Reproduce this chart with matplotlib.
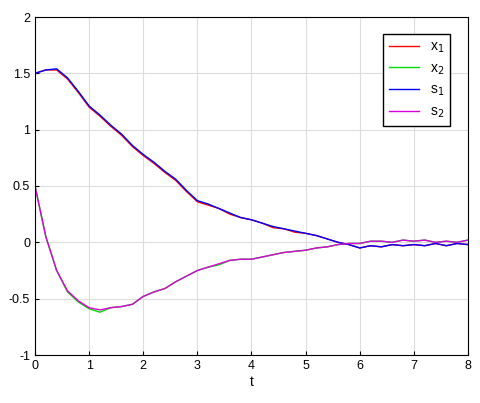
import numpy as np
import matplotlib
matplotlib.use("Agg")
import matplotlib.pyplot as plt

plt.rcParams['font.family'] = ['Liberation Sans', 'DejaVu Sans']

t = [round(0.2*i, 1) for i in range(41)]
x1 = [1.50,1.53,1.53,1.45,1.33,1.20,1.12,1.03,0.95,0.85,0.77,0.70,0.62,0.55,0.45,0.36,0.33,0.30,0.25,0.22,0.20,
      0.17,0.13,0.12,0.09,0.08,0.06,0.03,0.00,-0.02,-0.05,-0.03,-0.04,-0.02,-0.03,-0.02,-0.03,-0.01,-0.03,-0.01,-0.02]
s1 = [1.50,1.53,1.54,1.46,1.34,1.21,1.13,1.04,0.96,0.86,0.78,0.71,0.63,0.56,0.46,0.37,0.34,0.30,0.26,0.22,0.20,
      0.17,0.14,0.12,0.10,0.08,0.06,0.03,0.00,-0.02,-0.05,-0.03,-0.04,-0.02,-0.03,-0.02,-0.03,-0.01,-0.03,-0.01,-0.02]
x2 = [0.50,0.05,-0.25,-0.44,-0.53,-0.59,-0.62,-0.58,-0.57,-0.55,-0.48,-0.44,-0.41,-0.35,-0.30,-0.25,-0.22,-0.20,-0.16,-0.15,-0.15,
      -0.13,-0.11,-0.09,-0.08,-0.07,-0.05,-0.04,-0.02,-0.01,-0.01,0.01,0.01,0.00,0.02,0.01,0.02,0.00,0.01,0.00,0.02]
s2 = [0.50,0.05,-0.25,-0.43,-0.52,-0.58,-0.60,-0.58,-0.57,-0.55,-0.48,-0.44,-0.41,-0.35,-0.30,-0.25,-0.22,-0.19,-0.16,-0.15,-0.15,
      -0.13,-0.11,-0.09,-0.08,-0.07,-0.05,-0.04,-0.02,-0.01,-0.01,0.01,0.01,0.00,0.02,0.01,0.02,0.00,0.01,0.00,0.02]

fig = plt.figure(figsize=(4.81, 4.03), dpi=100)
ax = fig.add_axes([35/481, 48/403, 433/481, 338/403])
ax.plot(t, x1, color='red', lw=1, label='x$_1$')
ax.plot(t, x2, color='#00dd00', lw=1, label='x$_2$')
ax.plot(t, s1, color='blue', lw=1, label='s$_1$')
ax.plot(t, s2, color='#dd00dd', lw=1, label='s$_2$')
ax.set_xlim(0, 8)
ax.set_ylim(-1, 2)
ax.set_xticks(range(9))
ax.set_yticks([-1, -0.5, 0, 0.5, 1, 1.5, 2])
ax.set_yticklabels(['-1', '-0.5', '0', '0.5', '1', '1.5', '2'])
ax.grid(True, color='#dddddd', lw=0.8)
ax.tick_params(labelsize=9, direction='in', length=3)
ax.set_xlabel('t', fontsize=10, labelpad=2)
ax.legend(loc='upper right', bbox_to_anchor=(0.975, 0.97), fontsize=10, fancybox=False, edgecolor='black',
          framealpha=1, handlelength=2.2, borderpad=0.4, labelspacing=0.45)
fig.savefig('out.png', dpi=100)
